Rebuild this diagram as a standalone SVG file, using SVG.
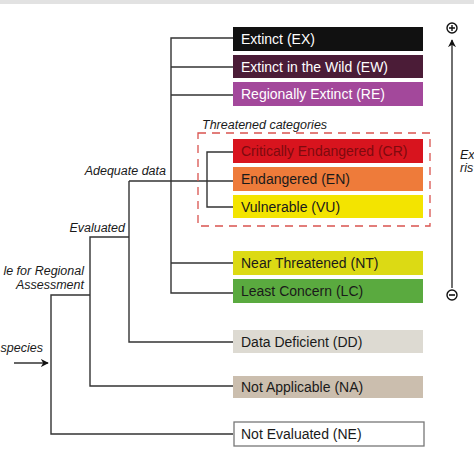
<svg xmlns="http://www.w3.org/2000/svg" width="474" height="474" viewBox="0 0 474 474">
<defs>
<style>
.box{stroke:none}
.lbl{font-family:"Liberation Sans",Arial,sans-serif;font-size:14px;fill:#1a1a1a}
.wt{fill:#ffffff}
.it{font-family:"Liberation Sans",Arial,sans-serif;font-size:12.5px;font-style:italic;fill:#1a1a1a}
.ln{fill:none;stroke:#333333;stroke-width:1.4}
</style>
<marker id="ah" viewBox="0 0 10 10" refX="9" refY="5" markerWidth="8" markerHeight="8" markerUnits="userSpaceOnUse" orient="auto">
<path d="M0,0 L10,5 L0,10 L3,5 Z" fill="#111111"/>
</marker>
</defs>
<rect x="0" y="0" width="474" height="474" fill="#ffffff"/>
<rect x="0" y="0" width="474" height="4" fill="#e2e2e2"/>

<g id="connectors">
<path class="ln" d="M233,38 H171 V293 H233"/>
<path class="ln" d="M171,67 H233"/>
<path class="ln" d="M171,95 H233"/>
<path class="ln" d="M171,263 H233"/>
<path class="ln" d="M233,152 H207 V207 H233"/>
<path class="ln" d="M129,181 H233"/>
<path class="ln" d="M129,181 V342 H233"/>
<path class="ln" d="M129,237 H90 V386 H233"/>
<path class="ln" d="M90,295 H51 V434 H233"/>
<path class="ln" d="M14,363 H48" stroke="#111111" marker-end="url(#ah)"/>
<path class="ln" d="M452,288 V40" stroke="#333333" stroke-width="1.6" marker-end="url(#ah)"/>
</g>

<g id="ex"><rect class="box" x="233" y="27" width="190" height="24" fill="#111111"/><text class="lbl wt" x="241" y="44">Extinct (EX)</text></g>
<g id="ew"><rect class="box" x="233" y="55" width="190" height="23" fill="#4b1c37"/><text class="lbl wt" x="241" y="71.5">Extinct in the Wild (EW)</text></g>
<g id="re"><rect class="box" x="233" y="82" width="190" height="24" fill="#a3489b"/><text class="lbl wt" x="241" y="99">Regionally Extinct (RE)</text></g>

<g id="threatened">
<text class="it" x="202" y="129">Threatened categories</text>
<rect x="198" y="133" width="232" height="93" fill="none" stroke="#d9534f" stroke-width="1.3" stroke-dasharray="8,6"/>
</g>
<g id="cr"><rect class="box" x="233" y="139" width="190" height="24" fill="#d8141e"/><text class="lbl" x="241" y="156" fill="#7e0a0e" style="fill:#7e0a0e">Critically Endangered (CR)</text></g>
<g id="en"><rect class="box" x="233" y="167" width="190" height="24" fill="#ee7b3a"/><text class="lbl" x="241" y="184">Endangered (EN)</text></g>
<g id="vu"><rect class="box" x="233" y="195" width="190" height="23" fill="#f3e400"/><text class="lbl" x="241" y="212">Vulnerable (VU)</text></g>

<g id="nt"><rect class="box" x="233" y="251" width="190" height="24" fill="#dcda14"/><text class="lbl" x="241" y="268">Near Threatened (NT)</text></g>
<g id="lc"><rect class="box" x="233" y="279" width="190" height="24" fill="#5aaa3f"/><text class="lbl" x="241" y="296">Least Concern (LC)</text></g>
<g id="dd"><rect class="box" x="233" y="330" width="190" height="23" fill="#dddad2"/><text class="lbl" x="241" y="347">Data Deficient (DD)</text></g>
<g id="na"><rect class="box" x="233" y="376" width="190" height="22" fill="#cbbeae"/><text class="lbl" x="241" y="392">Not Applicable (NA)</text></g>
<g id="ne"><rect x="234" y="422" width="190" height="24" fill="#ffffff" stroke="#777777" stroke-width="1.3"/><text class="lbl" x="241" y="439">Not Evaluated (NE)</text></g>

<g id="labels">
<text class="it" x="166" y="175" text-anchor="end">Adequate data</text>
<text class="it" x="125" y="232" text-anchor="end">Evaluated</text>
<text class="it" x="84" y="275" text-anchor="end">le for Regional</text>
<text class="it" x="84" y="289" text-anchor="end">Assessment</text>
<text class="it" x="43" y="352" text-anchor="end">species</text>
<text class="it" x="460" y="159">Ex</text>
<text class="it" x="460" y="172">ris</text>
</g>

<g id="plus">
<circle cx="452" cy="28" r="5" fill="none" stroke="#111111" stroke-width="1.4"/>
<path d="M449,28 H455 M452,25 V31" stroke="#111111" stroke-width="1.4"/>
</g>
<g id="minus">
<circle cx="452" cy="295" r="5" fill="none" stroke="#111111" stroke-width="1.4"/>
<path d="M449,295 H455" stroke="#111111" stroke-width="1.6"/>
</g>
</svg>
